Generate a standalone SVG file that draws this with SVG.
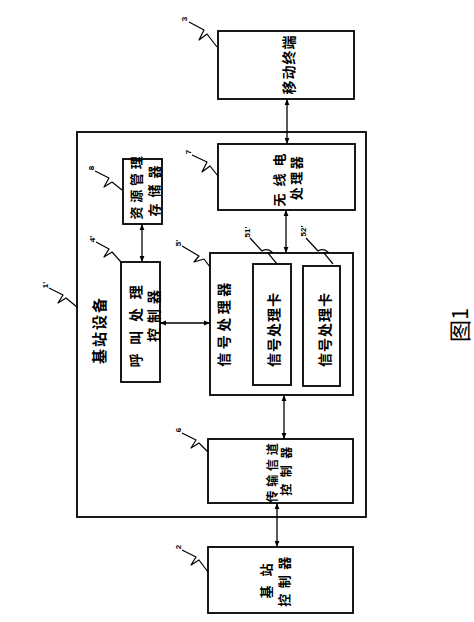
<svg xmlns="http://www.w3.org/2000/svg" width="474" height="622" viewBox="0 0 474 622">
<style>
.box{fill:none;stroke:#000;stroke-width:1.8}
.ln{fill:none;stroke:#000;stroke-width:1.3}
.ld{fill:none;stroke:#000;stroke-width:1.2;stroke-linejoin:round}
.t{font-family:"Noto Sans CJK SC","Noto Sans CJK JP",sans-serif;font-size:14px;font-weight:bold;fill:#000;text-anchor:middle;dominant-baseline:central}
.s{font-size:13px}
.xs{font-size:12px}
.lb{font-family:"Liberation Sans",sans-serif;font-size:8px;font-weight:bold;fill:#000;text-anchor:middle;dominant-baseline:central}
.fig{font-family:"Noto Sans CJK SC","Noto Sans CJK JP",sans-serif;font-size:22px;fill:#000;text-anchor:middle;dominant-baseline:central}
</style>
<defs>
<marker id="ah" viewBox="0 0 10 10" refX="10" refY="5" markerWidth="6" markerHeight="6" orient="auto-start-reverse" markerUnits="userSpaceOnUse">
<path d="M0,1 L10,5 L0,9 Z" fill="#000"/>
</marker>
</defs>
<rect width="474" height="622" fill="#fff"/>

<g id="n1">
<rect class="box" x="77" y="132" width="289" height="385"/>
<text class="t" style="font-size:15px" letter-spacing="2" transform="translate(98,330) rotate(-90)">基站设备</text>
<text class="lb" transform="translate(45,285) rotate(-90)">1'</text>
<path class="ld" d="M49,288 l14,7 l-5,8 l8,-5 l11,9"/>
</g>

<g id="n3">
<rect class="box" x="218" y="31" width="136" height="68"/>
<text class="t" letter-spacing="1" transform="translate(288,64.5) rotate(-90)">移动终端</text>
<text class="lb" transform="translate(184,19) rotate(-90)">3</text>
<path class="ld" d="M189,22 l15,8 l-5,10 l8,-6 l10,13"/>
</g>

<g id="n7">
<rect class="box" x="218" y="144" width="137" height="66"/>
<text class="t s" letter-spacing="7" transform="translate(278,176.5) rotate(-90)">无线电</text>
<text class="t s" letter-spacing="2.5" transform="translate(295,177) rotate(-90)">处理器</text>
<text class="lb" transform="translate(188,152) rotate(-90)">7</text>
<path class="ld" d="M192,155 l15,7 l-5,10 l8,-6 l8,10"/>
</g>

<g id="n8">
<rect class="box" x="123" y="159" width="39" height="65"/>
<text class="t s" letter-spacing="3.7" transform="translate(135,186) rotate(-90)">资源管理</text>
<text class="t s" letter-spacing="6" transform="translate(153,188) rotate(-90)">存储器</text>
<text class="lb" transform="translate(91,168) rotate(-90)">8</text>
<path class="ld" d="M95,171 l14,7 l-5,9 l8,-5 l10,8"/>
</g>

<g id="n4">
<rect class="box" x="121" y="262" width="39" height="120"/>
<text class="t" letter-spacing="8.7" transform="translate(135,322) rotate(-90)">呼叫处理</text>
<text class="t" letter-spacing="5" transform="translate(153,313.5) rotate(-90)">控制器</text>
<text class="lb" transform="translate(92,239) rotate(-90)">4'</text>
<path class="ld" d="M96,242 l13,7 l-5,8 l8,-5 l9,10"/>
</g>

<g id="n5">
<rect class="box" x="210" y="253" width="143" height="142"/>
<text class="t" letter-spacing="3.5" transform="translate(223,323) rotate(-90)">信号处理器</text>
<text class="lb" transform="translate(178,243) rotate(-90)">5'</text>
<path class="ld" d="M182,246 l17,10 l-5,6 l10,-3 l6,8"/>
</g>

<g id="n51">
<rect class="box" x="253" y="264" width="38" height="121"/>
<text class="t" letter-spacing="1" transform="translate(273,329.5) rotate(-90)">信号处理卡</text>
<text class="lb" transform="translate(247,232) rotate(-90)">51'</text>
<path class="ld" d="M250,238 l12,13 q5,-3 10,1 l-4,1 l9,11"/>
</g>

<g id="n52">
<rect class="box" x="303" y="266" width="37" height="120"/>
<text class="t" letter-spacing="1" transform="translate(324,329.5) rotate(-90)">信号处理卡</text>
<text class="lb" transform="translate(303,231) rotate(-90)">52'</text>
<path class="ld" d="M306,238 l12,13 q5,-3 10,1 l-4,1 l9,11"/>
</g>

<g id="n6">
<rect class="box" x="208" y="439" width="145" height="64"/>
<text class="t xs" letter-spacing="3.7" transform="translate(271,471) rotate(-90)">传输信道</text>
<text class="t xs" letter-spacing="6.5" transform="translate(285,468) rotate(-90)">控制器</text>
<text class="lb" transform="translate(178,430) rotate(-90)">6</text>
<path class="ld" d="M182,433 l14,7 l-5,8 l8,-5 l9,9"/>
</g>

<g id="n2">
<rect class="box" x="208" y="547" width="145" height="66"/>
<text class="t s" letter-spacing="9" transform="translate(265,576.5) rotate(-90)">基站</text>
<text class="t s" letter-spacing="5.5" transform="translate(283,579) rotate(-90)">控制器</text>
<text class="lb" transform="translate(178,547) rotate(-90)">2</text>
<path class="ld" d="M182,550 l14,7 l-5,8 l8,-5 l9,12"/>
</g>

<g id="connectors">
<line class="ln" x1="287" y1="99" x2="287" y2="144" marker-start="url(#ah)" marker-end="url(#ah)"/>
<line class="ln" x1="142" y1="224" x2="142" y2="262" marker-start="url(#ah)" marker-end="url(#ah)"/>
<line class="ln" x1="160" y1="323" x2="210" y2="323" marker-start="url(#ah)" marker-end="url(#ah)"/>
<line class="ln" x1="286" y1="210" x2="286" y2="253" marker-start="url(#ah)" marker-end="url(#ah)"/>
<line class="ln" x1="284" y1="395" x2="284" y2="439" marker-start="url(#ah)" marker-end="url(#ah)"/>
<line class="ln" x1="277" y1="503" x2="277" y2="547" marker-start="url(#ah)" marker-end="url(#ah)"/>
</g>

<text class="fig" transform="translate(458,325) rotate(-90)">图1</text>
</svg>
